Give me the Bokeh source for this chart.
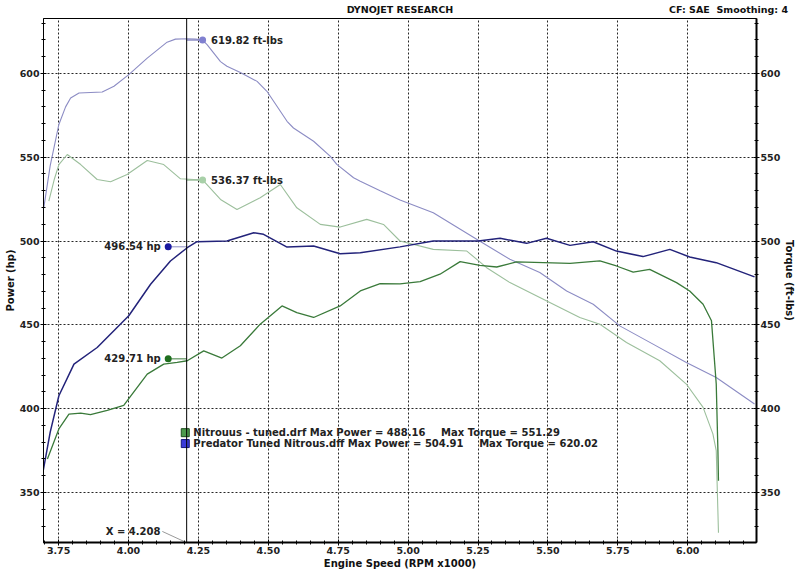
from bokeh.plotting import figure
from bokeh.models import (Range1d, LinearAxis, SingleIntervalTicker, NumeralTickFormatter,
                          FixedTicker, Span)
from bokeh.core.properties import value
from bokeh.embed import file_html
from bokeh.resources import INLINE

# ---------------- data ----------------
pt_rpm = [3.697, 3.72, 3.751, 3.775, 3.793, 3.823, 3.906, 3.948, 4.001, 4.067, 4.138, 4.168,
          4.21, 4.24, 4.265, 4.281, 4.329, 4.352, 4.40, 4.46, 4.495, 4.567, 4.59, 4.662,
          4.721, 4.745, 4.805, 4.829, 4.90, 4.971, 5.09, 5.251, 5.364, 5.471, 5.567,
          5.662, 5.757, 5.876, 5.995, 6.102, 6.239]
pt_val = [519.8, 545.0, 569.5, 580.0, 585.3, 588.3, 588.9, 592.3, 599.2, 609.1, 618.6, 620.4,
          620.6, 620.4, 619.8, 617.1, 607.0, 604.2, 600.5, 595.2, 589.3, 571.4, 567.4, 559.5,
          550.6, 545.7, 537.7, 535.7, 530.0, 524.5, 516.9, 500.4, 489.1, 481.2, 470.2,
          462.3, 449.4, 438.5, 427.6, 418.6, 402.8]

nt_rpm = [3.715, 3.735, 3.751, 3.781, 3.829, 3.888, 3.936, 3.995, 4.067, 4.126, 4.186, 4.265,
          4.329, 4.388, 4.471, 4.543, 4.602, 4.686, 4.757, 4.852, 4.912, 4.971, 5.09, 5.21,
          5.281, 5.364, 5.471, 5.614, 5.686, 5.781, 5.90, 5.995, 6.055, 6.09, 6.102, 6.11]
nt_val = [523.8, 537.0, 545.6, 551.6, 545.6, 536.7, 535.3, 539.7, 548.0, 545.6, 537.1, 536.4,
          524.8, 518.8, 525.8, 533.7, 519.8, 509.9, 508.3, 512.9, 509.9, 500.0, 495.0, 494.0,
          484.1, 475.2, 466.3, 454.4, 450.4, 439.5, 428.6, 414.7, 400.8, 385.0, 375.0, 326.0]

pp_rpm = [3.695, 3.72, 3.751, 3.805, 3.888, 4.001, 4.079, 4.15, 4.21, 4.245, 4.352, 4.448,
          4.483, 4.567, 4.662, 4.757, 4.829, 4.971, 5.09, 5.251, 5.329, 5.424, 5.495, 5.579,
          5.662, 5.745, 5.84, 5.936, 6.007, 6.102, 6.239]
pp_val = [363.0, 386.0, 407.7, 426.6, 436.5, 455.4, 474.2, 488.1, 496.0, 499.6, 500.0, 504.9,
          504.0, 496.4, 497.0, 492.4, 493.0, 496.5, 500.0, 500.0, 501.6, 498.6, 501.6, 497.4,
          499.6, 494.0, 490.7, 495.0, 490.5, 487.1, 478.6]

np_rpm = [3.71, 3.751, 3.787, 3.829, 3.864, 3.924, 3.983, 4.001, 4.067, 4.126, 4.174, 4.21,
          4.269, 4.334, 4.40, 4.471, 4.549, 4.602, 4.662, 4.757, 4.829, 4.90, 4.971, 5.043,
          5.114, 5.186, 5.257, 5.317, 5.388, 5.579, 5.686, 5.745, 5.805, 5.864, 5.96, 6.007,
          6.055, 6.085, 6.102, 6.108, 6.11]
np_val = [370.0, 387.9, 396.8, 397.4, 396.4, 399.0, 402.0, 406.0, 420.6, 426.6, 427.6, 428.6,
          434.5, 430.2, 437.5, 450.4, 461.3, 457.3, 454.4, 461.3, 470.2, 474.6, 474.4, 475.8,
          480.2, 487.7, 485.5, 484.5, 487.5, 486.7, 488.1, 485.1, 481.5, 483.1, 475.2, 470.2,
          462.3, 452.4, 414.7, 375.0, 357.0]

cursor_x = 4.208
tq_marker_x = 4.265
hp_marker_x = 4.142
readouts = {"pt": 619.82, "nt": 536.37, "pp": 496.54, "np": 429.71}

legend_rows = ["Nitrouus - tuned.drf Max Power = 488.16", "Predator Tuned Nitrous.dff Max Power = 504.91"]
legend_torque = ["Max Torque = 551.29", "Max Torque = 620.02"]

header_texts = {357: "DYNOJET RESEARCH", 686: "CF: SAE\u00a0 Smoothing: 4"}

FONT = "DejaVu Sans"

# ---------------- figure ----------------
p = figure(width=798, height=571, output_backend="svg", toolbar_location=None,
           x_range=Range1d(3.696, 6.246), y_range=Range1d(320.2, 632.7),
           min_border_left=43, min_border_right=41, min_border_top=17, min_border_bottom=28,
           background_fill_color="white", border_fill_color="white")
p.outline_line_color = "black"
p.outline_line_width = 1
p.extra_x_ranges = {"hdr": Range1d(0, 714)}

xt = SingleIntervalTicker(interval=0.25, num_minor_ticks=5)
yt = SingleIntervalTicker(interval=50, num_minor_ticks=5)

p.xaxis.ticker = xt
p.xaxis.formatter = NumeralTickFormatter(format="0.00")
p.xaxis.axis_label = "Engine Speed (RPM x1000)"
p.yaxis.ticker = yt
p.yaxis.axis_label = "Power (hp)"

ry = LinearAxis(ticker=yt, axis_label="Torque (ft-lbs)")
p.add_layout(ry, "right")

for ax in [p.xaxis[0], p.yaxis[0], ry]:
    ax.major_label_text_font = FONT
    ax.major_label_text_font_style = "bold"
    ax.major_label_text_font_size = "9.5px"
    ax.major_label_text_color = "#222222"
    ax.axis_label_text_font = FONT
    ax.axis_label_text_font_style = "bold"
    ax.axis_label_text_font_size = "10px"
    ax.axis_label_text_color = "#111111"
    ax.axis_line_color = "black"
    ax.major_tick_line_color = "black"
    ax.minor_tick_line_color = "black"
    ax.major_tick_in = 3
    ax.major_tick_out = 3
    ax.minor_tick_in = 2
    ax.minor_tick_out = 2
    ax.major_label_standoff = 1
    ax.axis_label_standoff = 1

p.xaxis.axis_line_width = 2
ry.axis_line_width = 2

# header line (title + settings) as an unticked top axis
hdr = LinearAxis(x_range_name="hdr", ticker=FixedTicker(ticks=list(header_texts.keys())),
                 major_label_overrides=header_texts)
hdr.axis_line_color = None
hdr.major_tick_line_color = None
hdr.minor_tick_line_color = None
hdr.major_tick_in = 0
hdr.major_tick_out = 0
hdr.major_label_standoff = 4
hdr.major_label_text_font = FONT
hdr.major_label_text_font_style = "bold"
hdr.major_label_text_font_size = "9.5px"
hdr.major_label_text_color = "#111111"
p.add_layout(hdr, "above")

p.xgrid.ticker = xt
p.ygrid.ticker = yt
for g in [p.xgrid[0], p.ygrid[0]]:
    g.grid_line_color = "black"
    g.grid_line_dash = "2 2"
    g.grid_line_width = 1
    g.grid_line_alpha = 0.85

# curves
p.line(pt_rpm, pt_val, line_color="#8c8cc4", line_width=1.1)
p.line(nt_rpm, nt_val, line_color="#9cbf9c", line_width=1.1)
p.line(np_rpm, np_val, line_color="#3a7a3a", line_width=1.3)
p.line(pp_rpm, pp_val, line_color="#23237a", line_width=1.5)

# cursor
p.add_layout(Span(location=cursor_x, dimension="height", line_color="black", line_width=1))

# readout segments & markers
p.segment([cursor_x, cursor_x], [readouts["pt"], readouts["nt"]],
          [tq_marker_x, tq_marker_x], [readouts["pt"], readouts["nt"]],
          line_color=["#8c8cc4", "#9cbf9c"], line_width=1.5)
p.segment([hp_marker_x, hp_marker_x], [readouts["pp"], readouts["np"]],
          [cursor_x, cursor_x], [readouts["pp"], readouts["np"]],
          line_color=["#8c8cc4", "#3a7a3a"], line_width=1)
p.scatter([tq_marker_x, tq_marker_x], [readouts["pt"], readouts["nt"]], size=7,
          fill_color=["#8080d0", "#a8d0a8"], line_color=None)
p.scatter([hp_marker_x, hp_marker_x], [readouts["pp"], readouts["np"]], size=7,
          fill_color=["#1a1aa0", "#1f6f1f"], line_color=None)

p.text([tq_marker_x + 0.03, tq_marker_x + 0.03], [readouts["pt"], readouts["nt"]],
       text=["%.2f ft-lbs" % readouts["pt"], "%.2f ft-lbs" % readouts["nt"]],
       text_font=value(FONT), text_font_style="bold", text_font_size="10px",
       text_color="#222222", text_baseline="middle", text_align="left")
p.text([hp_marker_x - 0.027, hp_marker_x - 0.027], [readouts["pp"], readouts["np"]],
       text=["%.2f hp" % readouts["pp"], "%.2f hp" % readouts["np"]],
       text_font=value(FONT), text_font_style="bold", text_font_size="10px",
       text_color="#222222", text_baseline="middle", text_align="right")

# X readout
p.text([4.114], [326.8], text=["X = %.3f" % cursor_x],
       text_font=value(FONT), text_font_style="bold", text_font_size="10px",
       text_color="#222222", text_baseline="middle", text_align="right")
p.line([4.121, 4.204], [326.8, 320.4], line_color="#999999", line_width=1)

# legend
leg_y = [385.7, 379.2]
p.scatter([4.203, 4.203], leg_y, marker="square", size=8,
          fill_color=["#4c9a4c", "#3a3ad8"], line_color=["#1f4f1f", "#14147a"])
p.text([4.232, 4.232], leg_y, text=legend_rows,
       text_font=value(FONT), text_font_style="bold", text_font_size="10px",
       text_color="#222222", text_baseline="middle", text_align="left")
p.text([5.118, 5.254], leg_y, text=legend_torque,
       text_font=value(FONT), text_font_style="bold", text_font_size="10px",
       text_color="#222222", text_baseline="middle", text_align="left")

open("out.html", "w").write(file_html(p, INLINE))
